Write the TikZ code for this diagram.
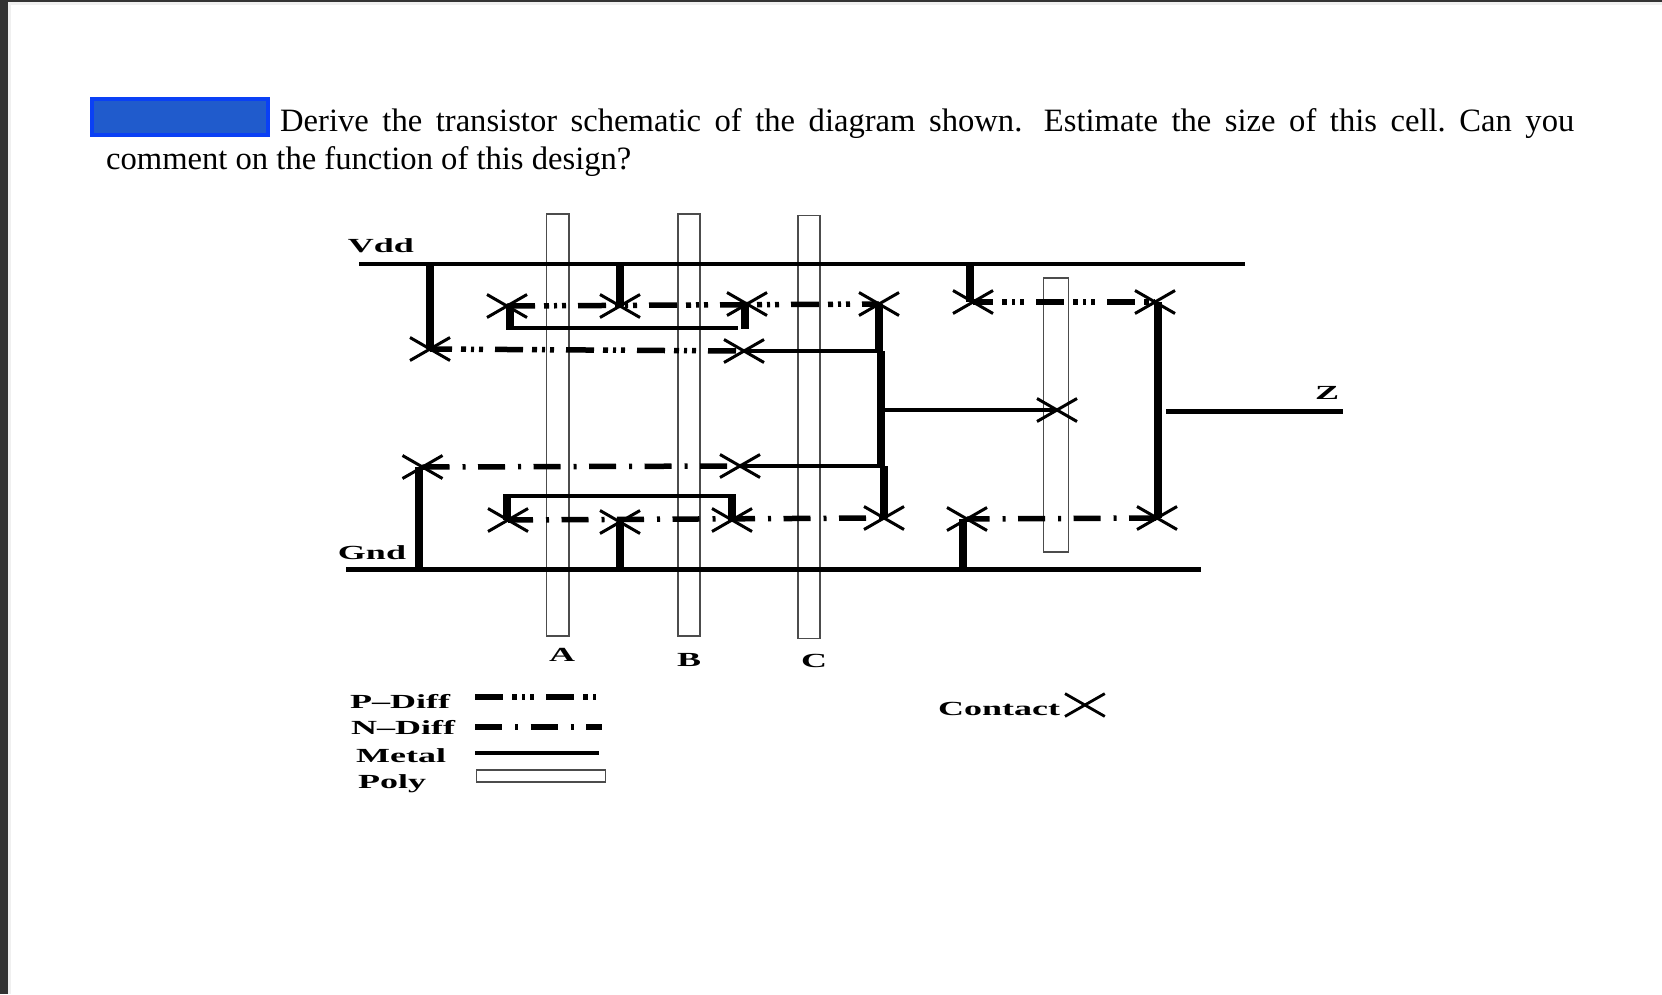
\documentclass[tikz,border=0pt]{standalone}
\usepackage{fontspec}
\setmainfont{Liberation Serif}
\usetikzlibrary{shapes.misc}
\definecolor{boxfill}{HTML}{205BCC}
\definecolor{boxedge}{HTML}{0A40F5}
\newcommand{\lbl}[1]{\scalebox{1.8}[1]{\bfseries\fontsize{20}{20}\selectfont #1}}
\begin{document}
\begin{tikzpicture}[x=1pt,y=-1pt,
	contact/.style={cross out,draw,line width=3pt,minimum width=37pt,minimum height=20pt,inner sep=0pt},
	polygate/.style={draw=black!70,line width=1.6pt,inner sep=0pt},
	rail/.style={line width=4.2pt},
	metal/.style={line width=4.2pt},
	stem/.style={line width=8pt},
	pdiff/.style={line width=5.5pt,dash pattern=on 28pt off 9pt on 5pt off 5pt on 3pt off 5pt on 4pt off 12pt},
	ndiff/.style={line width=5.5pt,dash pattern=on 27pt off 13pt on 3pt off 12.5pt},
	tag/.style={inner sep=0pt}]
	\useasboundingbox (0,0) rectangle (1662,994);
	\fill[black!6] (8,2) rectangle (1662,5);
	\fill[black!6] (8,2) rectangle (11,994);
	\fill[black!80] (0,0) rectangle (8,994);
	\fill[black!80] (8,0) rectangle (1662,2.3);
	% question text
	\node[draw=boxedge,fill=boxfill,line width=4pt,minimum width=176pt,minimum height=36pt,inner sep=0pt] (mask) at (180,116.5) {};
	\node[anchor=base west,inner sep=0pt,font=\fontsize{32.6}{32.6}\selectfont] (line1) at (280,131.5) {\frenchspacing\makebox[1294pt][s]{Derive the transistor schematic of the diagram shown.\hspace{8pt} Estimate the size of this cell. Can you}};
	\node[anchor=base west,inner sep=0pt,font=\fontsize{32.6}{32.6}\selectfont] (line2) at (106,169) {comment on the function of this design?};
	% poly
	\node[polygate,minimum width=22.5pt,minimum height=422pt] (polyA) at (557.8,425) {};
	\node[polygate,minimum width=21.5pt,minimum height=422pt] (polyB) at (689,425) {};
	\node[polygate,minimum width=22pt,minimum height=423pt] (polyC) at (809,427) {};
	\node[polygate,minimum width=25pt,minimum height=273.5pt] (polyD) at (1056,415) {};
	\node[tag] (labA) at (562,655) {\lbl{A}};
	\node[tag] (labB) at (689,660) {\lbl{B}};
	\node[tag] (labC) at (814,661) {\lbl{C}};
	% rails
	\coordinate (vddL) at (359,264);
	\coordinate (vddR) at (1245,264);
	\coordinate (gndL) at (346,569.5);
	\coordinate (gndR) at (1201,569.5);
	\draw[rail] (vddL) -- (vddR);
	\draw[rail] (gndL) -- (gndR);
	\node[tag] (labVdd) at (381,246) {\lbl{Vdd}};
	\node[tag] (labGnd) at (372,553) {\lbl{Gnd}};
	% contacts
	\foreach \name/\x/\y in {c1/507/306,c2/620/306,c3/747/304,c4/879/304,c5/973/302,c6/1155/302,
		c7/430/349,c8/744/351,c9/422.5/467,c10/740/466,
		c11/508/520,c12/620/522,c13/732/520,c14/884/518,c15/967/519,c16/1157/518,c17/1057/410}
		\node[contact] (\name) at (\x,\y) {};
	% diffusion
	\draw[pdiff] (c1.center) -- (c4.center);
	\draw[pdiff,dash phase=6pt] (c7.center) -- (c8.center);
	\draw[pdiff,dash phase=8pt] (c5.center) -- (c6.center);
	\draw[ndiff] (c9.center) -- (c10.center);
	\draw[ndiff,dash phase=2pt] (c11.center) -- (c14.center);
	\draw[ndiff,dash phase=4.5pt] (c15.center) -- (c16.center);
	% metal
	\draw[stem] (c7|-vddL) -- (c7.center);
	\draw[stem] (c2|-vddL) -- (c2.center);
	\draw[stem] ([xshift=-3pt]c5.center|-vddL) -- ([xshift=-3pt]c5.center);
	\draw[stem] ([xshift=-4pt]c9.center) -- ([xshift=-4pt]c9.center|-gndL);
	\draw[stem] (c12|-gndL) -- (c12.center);
	\draw[stem] ([xshift=-4pt]c15.center|-gndL) -- ([xshift=-4pt]c15.center);
	\coordinate (jogT) at (881,351);
	\coordinate (jogB) at (881,466);
	\draw[stem] (c1.center) ++(3,0) -- ++(0,24);
	\draw[metal] (510,328) -- (738,328);
	\draw[stem] (c3.center) ++(-2,0) -- ++(0,25);
	\draw[stem] ([xshift=-1pt]c11.center) -- ([xshift=-1pt]c11.center|-0,494);
	\draw[metal] (504,496) -- (733,496);
	\draw[stem] (c13.center) -- (c13.center|-0,494);
	\draw[metal] (c8.center) -- (jogT);
	\draw[metal] (c10.center) -- (jogB);
	\draw[stem] (c4.center) -- (c4|-jogT);
	\draw[stem] (jogT) -- (jogB);
	\draw[stem] (c14|-jogB) -- (c14.center);
	\draw[metal] (jogT|-c17) -- (c17.center);
	\draw[stem] (c6.center) ++(3,0) -- (1158,518);
	\coordinate (outL) at (1166,411.5);
	\coordinate (outR) at (1343,411.5);
	\draw[metal] (outL) -- (outR);
	\node[tag] (labZ) at (1327,393) {\lbl{Z}};
	% legend
	\node[tag,anchor=west] (legP) at (350,701) {\lbl{P--Diff}};
	\node[tag,anchor=west] (legN) at (351,727) {\lbl{N--Diff}};
	\node[tag,anchor=west] (legM) at (356,756) {\lbl{Metal}};
	\node[tag,anchor=west] (legY) at (358,784) {\lbl{Poly}};
	\coordinate (keyP) at (475,697);
	\draw[pdiff] (keyP) -- ++(121,0);
	\coordinate (keyN) at (475,727);
	\draw[ndiff] (keyN) -- ++(127,0);
	\coordinate (keyM) at (475,753);
	\draw[metal] (keyM) -- ++(124,0);
	\node[polygate,line width=1.3pt,minimum width=129pt,minimum height=12pt,anchor=west] (keyY) at (475.5,776) {};
	\node[tag,anchor=west] (legC) at (938,709) {\lbl{Contact}};
	\node[contact,line width=2.8pt,anchor=west] (keyC) at (1065,705) {};
\end{tikzpicture}
\end{document}
